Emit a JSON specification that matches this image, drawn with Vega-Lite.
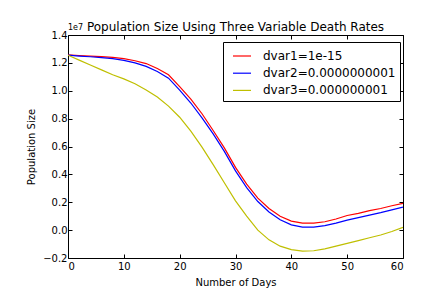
{
  "$schema": "https://vega.github.io/schema/vega-lite/v6.json",
  "width": 335,
  "height": 223,
  "autosize": {"type": "none"},
  "padding": {"left": 68, "top": 35, "right": 37, "bottom": 42},
  "background": "white",
  "config": {
    "font": "DejaVu Sans",
    "view": {"stroke": "black", "strokeWidth": 1},
    "axis": {
      "grid": false,
      "domain": false,
      "tickColor": "black",
      "tickSize": -4,
      "labelFont": "DejaVu Sans",
      "labelFontSize": 10,
      "labelColor": "black",
      "titleFont": "DejaVu Sans",
      "titleFontSize": 10,
      "titleFontWeight": "normal",
      "titleColor": "black"
    }
  },
  "title": {
    "text": "Population Size Using Three Variable Death Rates",
    "fontSize": 12,
    "fontWeight": "normal",
    "font": "DejaVu Sans",
    "color": "black",
    "anchor": "middle",
    "offset": -10
  },
  "datasets": {
    "pop": [
      {"day": 0, "series": "dvar1=1e-15", "pop": 12570000},
      {"day": 2, "series": "dvar1=1e-15", "pop": 12530000},
      {"day": 4, "series": "dvar1=1e-15", "pop": 12490000},
      {"day": 6, "series": "dvar1=1e-15", "pop": 12450000},
      {"day": 8, "series": "dvar1=1e-15", "pop": 12400000},
      {"day": 10, "series": "dvar1=1e-15", "pop": 12300000},
      {"day": 12, "series": "dvar1=1e-15", "pop": 12150000},
      {"day": 14, "series": "dvar1=1e-15", "pop": 11950000},
      {"day": 16, "series": "dvar1=1e-15", "pop": 11600000},
      {"day": 18, "series": "dvar1=1e-15", "pop": 11150000},
      {"day": 20, "series": "dvar1=1e-15", "pop": 10300000},
      {"day": 22, "series": "dvar1=1e-15", "pop": 9400000},
      {"day": 24, "series": "dvar1=1e-15", "pop": 8350000},
      {"day": 26, "series": "dvar1=1e-15", "pop": 7150000},
      {"day": 28, "series": "dvar1=1e-15", "pop": 5900000},
      {"day": 30, "series": "dvar1=1e-15", "pop": 4500000},
      {"day": 32, "series": "dvar1=1e-15", "pop": 3300000},
      {"day": 34, "series": "dvar1=1e-15", "pop": 2300000},
      {"day": 36, "series": "dvar1=1e-15", "pop": 1550000},
      {"day": 38, "series": "dvar1=1e-15", "pop": 1000000},
      {"day": 40, "series": "dvar1=1e-15", "pop": 650000},
      {"day": 42, "series": "dvar1=1e-15", "pop": 500000},
      {"day": 44, "series": "dvar1=1e-15", "pop": 500000},
      {"day": 46, "series": "dvar1=1e-15", "pop": 600000},
      {"day": 48, "series": "dvar1=1e-15", "pop": 800000},
      {"day": 50, "series": "dvar1=1e-15", "pop": 1050000},
      {"day": 52, "series": "dvar1=1e-15", "pop": 1200000},
      {"day": 54, "series": "dvar1=1e-15", "pop": 1400000},
      {"day": 56, "series": "dvar1=1e-15", "pop": 1550000},
      {"day": 58, "series": "dvar1=1e-15", "pop": 1750000},
      {"day": 60, "series": "dvar1=1e-15", "pop": 1920000},
      {"day": 0, "series": "dvar2=0.0000000001", "pop": 12550000},
      {"day": 2, "series": "dvar2=0.0000000001", "pop": 12490000},
      {"day": 4, "series": "dvar2=0.0000000001", "pop": 12440000},
      {"day": 6, "series": "dvar2=0.0000000001", "pop": 12380000},
      {"day": 8, "series": "dvar2=0.0000000001", "pop": 12300000},
      {"day": 10, "series": "dvar2=0.0000000001", "pop": 12180000},
      {"day": 12, "series": "dvar2=0.0000000001", "pop": 12000000},
      {"day": 14, "series": "dvar2=0.0000000001", "pop": 11750000},
      {"day": 16, "series": "dvar2=0.0000000001", "pop": 11380000},
      {"day": 18, "series": "dvar2=0.0000000001", "pop": 10900000},
      {"day": 20, "series": "dvar2=0.0000000001", "pop": 10050000},
      {"day": 22, "series": "dvar2=0.0000000001", "pop": 9120000},
      {"day": 24, "series": "dvar2=0.0000000001", "pop": 8050000},
      {"day": 26, "series": "dvar2=0.0000000001", "pop": 6900000},
      {"day": 28, "series": "dvar2=0.0000000001", "pop": 5650000},
      {"day": 30, "series": "dvar2=0.0000000001", "pop": 4250000},
      {"day": 32, "series": "dvar2=0.0000000001", "pop": 3050000},
      {"day": 34, "series": "dvar2=0.0000000001", "pop": 2050000},
      {"day": 36, "series": "dvar2=0.0000000001", "pop": 1300000},
      {"day": 38, "series": "dvar2=0.0000000001", "pop": 750000},
      {"day": 40, "series": "dvar2=0.0000000001", "pop": 380000},
      {"day": 42, "series": "dvar2=0.0000000001", "pop": 220000},
      {"day": 44, "series": "dvar2=0.0000000001", "pop": 220000},
      {"day": 46, "series": "dvar2=0.0000000001", "pop": 320000},
      {"day": 48, "series": "dvar2=0.0000000001", "pop": 500000},
      {"day": 50, "series": "dvar2=0.0000000001", "pop": 720000},
      {"day": 52, "series": "dvar2=0.0000000001", "pop": 900000},
      {"day": 54, "series": "dvar2=0.0000000001", "pop": 1080000},
      {"day": 56, "series": "dvar2=0.0000000001", "pop": 1250000},
      {"day": 58, "series": "dvar2=0.0000000001", "pop": 1450000},
      {"day": 60, "series": "dvar2=0.0000000001", "pop": 1650000},
      {"day": 0, "series": "dvar3=0.000000001", "pop": 12550000},
      {"day": 2, "series": "dvar3=0.000000001", "pop": 12200000},
      {"day": 4, "series": "dvar3=0.000000001", "pop": 11850000},
      {"day": 6, "series": "dvar3=0.000000001", "pop": 11500000},
      {"day": 8, "series": "dvar3=0.000000001", "pop": 11150000},
      {"day": 10, "series": "dvar3=0.000000001", "pop": 10850000},
      {"day": 12, "series": "dvar3=0.000000001", "pop": 10500000},
      {"day": 14, "series": "dvar3=0.000000001", "pop": 10050000},
      {"day": 16, "series": "dvar3=0.000000001", "pop": 9550000},
      {"day": 18, "series": "dvar3=0.000000001", "pop": 8900000},
      {"day": 20, "series": "dvar3=0.000000001", "pop": 8100000},
      {"day": 22, "series": "dvar3=0.000000001", "pop": 7100000},
      {"day": 24, "series": "dvar3=0.000000001", "pop": 5950000},
      {"day": 26, "series": "dvar3=0.000000001", "pop": 4700000},
      {"day": 28, "series": "dvar3=0.000000001", "pop": 3400000},
      {"day": 30, "series": "dvar3=0.000000001", "pop": 2100000},
      {"day": 32, "series": "dvar3=0.000000001", "pop": 1000000},
      {"day": 34, "series": "dvar3=0.000000001", "pop": 0},
      {"day": 36, "series": "dvar3=0.000000001", "pop": -700000},
      {"day": 38, "series": "dvar3=0.000000001", "pop": -1150000},
      {"day": 40, "series": "dvar3=0.000000001", "pop": -1400000},
      {"day": 42, "series": "dvar3=0.000000001", "pop": -1500000},
      {"day": 44, "series": "dvar3=0.000000001", "pop": -1480000},
      {"day": 46, "series": "dvar3=0.000000001", "pop": -1350000},
      {"day": 48, "series": "dvar3=0.000000001", "pop": -1150000},
      {"day": 50, "series": "dvar3=0.000000001", "pop": -950000},
      {"day": 52, "series": "dvar3=0.000000001", "pop": -750000},
      {"day": 54, "series": "dvar3=0.000000001", "pop": -550000},
      {"day": 56, "series": "dvar3=0.000000001", "pop": -350000},
      {"day": 58, "series": "dvar3=0.000000001", "pop": -100000},
      {"day": 60, "series": "dvar3=0.000000001", "pop": 200000}
    ],
    "note": [{"label": "1e7"}]
  },
  "resolve": {"axis": {"x": "independent", "y": "independent"}},
  "layer": [
    {
      "data": {"name": "pop"},
      "mark": {"type": "line", "strokeWidth": 1.2, "clip": true},
      "encoding": {
        "x": {
          "field": "day",
          "type": "quantitative",
          "scale": {"domain": [0, 60], "nice": false},
          "axis": {"title": "Number of Days", "values": [0, 10, 20, 30, 40, 50, 60], "labelPadding": 7, "titlePadding": 6}
        },
        "y": {
          "field": "pop",
          "type": "quantitative",
          "scale": {"domain": [-2000000, 14000000], "nice": false, "zero": false},
          "axis": {
            "title": "Population Size",
            "values": [-2000000, 0, 2000000, 4000000, 6000000, 8000000, 10000000, 12000000, 14000000],
            "labelExpr": "format(datum.value / 10000000, '.1f')",
            "labelPadding": 5,
            "titlePadding": 6
          }
        },
        "color": {
          "field": "series",
          "type": "nominal",
          "scale": {
            "domain": ["dvar1=1e-15", "dvar2=0.0000000001", "dvar3=0.000000001"],
            "range": ["#ff0000", "#0000ff", "#bfbf00"]
          },
          "legend": {
            "title": null,
            "orient": "none",
            "legendX": 155,
            "legendY": 7,
            "direction": "vertical",
            "fillColor": "white",
            "strokeColor": "black",
            "padding": 4,
            "symbolType": "stroke",
            "symbolSize": 324,
            "symbolStrokeWidth": 1.2,
            "symbolOffset": 5,
            "labelFont": "DejaVu Sans",
            "labelFontSize": 12,
            "labelColor": "black",
            "labelOffset": 11,
            "rowPadding": 1.2
          }
        }
      }
    },
    {
      "data": {"name": "pop"},
      "mark": {"type": "line", "opacity": 0},
      "encoding": {
        "x": {
          "field": "day",
          "type": "quantitative",
          "scale": {"domain": [0, 60], "nice": false},
          "axis": {"orient": "top", "title": null, "labels": false, "values": [0, 10, 20, 30, 40, 50, 60]}
        },
        "y": {
          "field": "pop",
          "type": "quantitative",
          "scale": {"domain": [-2000000, 14000000], "nice": false, "zero": false},
          "axis": {"orient": "right", "title": null, "labels": false, "values": [-2000000, 0, 2000000, 4000000, 6000000, 8000000, 10000000, 12000000, 14000000]}
        }
      }
    },
    {
      "data": {"name": "note"},
      "mark": {"type": "text", "align": "left", "baseline": "alphabetic", "dy": -5, "fontSize": 8, "font": "DejaVu Sans", "fontWeight": "normal", "color": "black"},
      "encoding": {
        "x": {"datum": 0, "type": "quantitative", "axis": null},
        "y": {"datum": 14000000, "type": "quantitative", "axis": null},
        "text": {"field": "label"}
      }
    }
  ]
}
